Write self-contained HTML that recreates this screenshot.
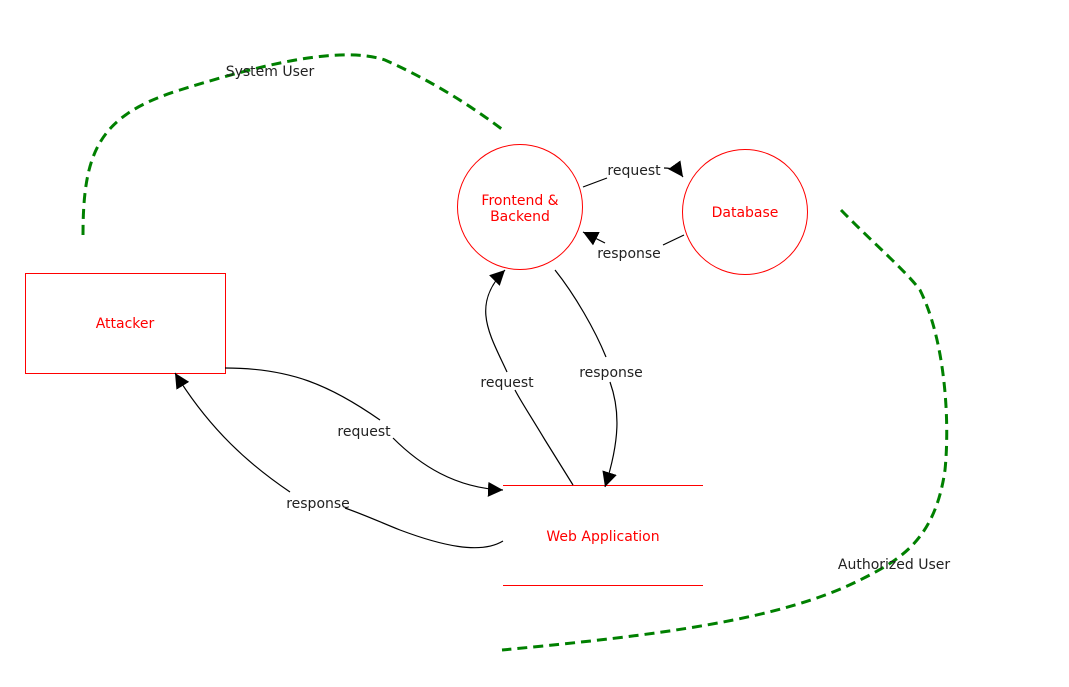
<!DOCTYPE html>
<html><head><meta charset="utf-8"><style>
html,body{margin:0;padding:0;background:#fff;}
svg text{font-family:"DejaVu Sans","Liberation Sans",sans-serif;font-size:14px;}
</style></head><body>
<svg width="1069" height="682" viewBox="0 0 1069 682" xmlns="http://www.w3.org/2000/svg">
<defs>
<marker id="a" markerWidth="10" markerHeight="10" refX="9" refY="5" orient="auto" markerUnits="userSpaceOnUse"><path d="M0,0 L10,5 L0,10 Z" fill="#000" transform="scale(1.5) translate(-3,-1.7)"/></marker>
<marker id="b" viewBox="0 0 10 10" refX="10" refY="5" markerWidth="15" markerHeight="15" orient="auto" markerUnits="userSpaceOnUse"><path d="M0,0 L10,5 L0,10 Z" fill="#000"/></marker>
</defs>
<g fill="none" stroke="#008000" stroke-width="3" stroke-dasharray="10,6">
<path d="M83,235 C83,150 100,115 180,90 C260,65 340,45 385,60 C430,80 470,105 503,130"/>
<path d="M841,210 C870,240 905,270 920,290 C945,340 950,420 945,470 C935,540 900,560 860,580 C780,620 660,635 502,650"/>
</g>
<g fill="none" stroke="#ff0000" stroke-width="1">
<rect x="25.5" y="273.5" width="200" height="100"/>
<circle cx="520" cy="207" r="62.5"/>
<circle cx="745" cy="212" r="62.5"/>
<line x1="503" y1="485.5" x2="703" y2="485.5"/>
<line x1="503" y1="585.5" x2="703" y2="585.5"/>
</g>
<g fill="none" stroke="#000" stroke-width="1.2">
<path d="M583,187 L607,178" />
<path d="M664,168 C672,168 678,170 683,177" marker-end="url(#b)"/>
<path d="M684,235 L663,245"/>
<path d="M605,243 L583,232" marker-end="url(#b)"/>
<path d="M225,368 C290,368 330,385 380,420 M393,438 C420,465 455,488 503,490" marker-end="url(#b)"/>
<path d="M503,541 C480,555 440,545 400,530 C380,522 365,515 345,508 M290,492 C250,465 210,430 175,373" marker-end="url(#b)"/>
<path d="M573,485 L545,440 C530,415 520,400 515,390 M507,372 C490,335 470,305 505,270" marker-end="url(#b)"/>
<path d="M555,270 C575,295 595,330 606,357 M610,382 C620,410 620,440 605,487" marker-end="url(#b)"/>
</g>
<g fill="#ff0000" text-anchor="middle">
<text x="125" y="328">Attacker</text>
<text x="520" y="205">Frontend &amp;</text>
<text x="520" y="221">Backend</text>
<text x="745" y="217">Database</text>
<text x="603" y="541">Web Application</text>
</g>
<g fill="#222" text-anchor="middle">
<text x="634" y="175">request</text>
<text x="629" y="258">response</text>
<text x="364" y="436">request</text>
<text x="318" y="508">response</text>
<text x="507" y="387">request</text>
<text x="611" y="377">response</text>
<text x="270" y="76">System User</text>
<text x="894" y="569">Authorized User</text>
</g>
</svg>
</body></html>
